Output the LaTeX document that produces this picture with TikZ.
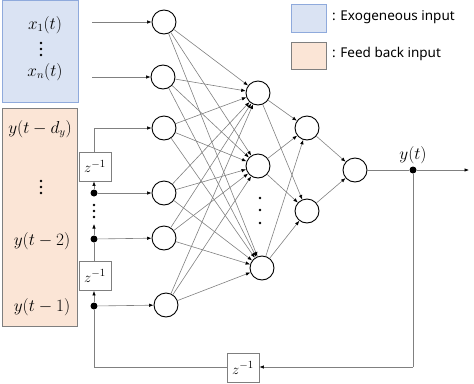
\documentclass[tikz,border=0pt]{standalone}
\usepackage{fontspec}
\newfontfamily\legfont{Noto Sans}
\usetikzlibrary{arrows.meta}
\definecolor{exofill}{HTML}{DAE3F3}
\definecolor{exoline}{HTML}{8FAADC}
\definecolor{fbfill}{HTML}{FBE5D6}
\definecolor{fbline}{HTML}{7F7F7F}
\definecolor{wire}{HTML}{808080}
\begin{document}
\begin{tikzpicture}[x=1pt,y=-1pt,
  neuron/.style={circle,draw=black,line width=0.9pt,minimum size=24pt,inner sep=0pt},
  conn/.style={draw=wire,line width=0.6pt,-{Latex[length=4.5pt,width=3.5pt,color=black]}},
  wireline/.style={draw=wire,line width=0.75pt},
  delaybox/.style={draw=fbline,fill=white,line width=0.9pt,minimum width=32pt,minimum height=29pt,inner sep=0pt,font=\fontsize{15}{17}\selectfont},
  jdot/.style={circle,fill=black,minimum size=7pt,inner sep=0pt},
  mtext/.style={font=\fontsize{16}{18}\selectfont,inner sep=0pt},
  legtext/.style={font=\legfont\fontsize{13.5}{15}\selectfont,anchor=west,inner sep=0pt}]
\useasboundingbox (0,0) rectangle (474,383);
% input boxes
\node[draw=exoline,fill=exofill,line width=0.9pt,minimum width=76pt,minimum height=102pt,inner sep=0pt] (exobox) at (40,51) {};
\node[draw=fbline,fill=fbfill,line width=0.9pt,minimum width=75pt,minimum height=218pt,inner sep=0pt] (fbbox) at (40,217) {};
\node[mtext] (x1) at (45,25) {$x_1(t)$};
\node[mtext] (xn) at (45,72) {$x_n(t)$};
\foreach \yy in {43,49,55} \fill (41,\yy) circle (1.4pt);
\node[mtext] (yd) at (40,129) {$y(t-d_y)$};
\foreach \yy in {181,187,193} \fill (41,\yy) circle (1.4pt);
\node[mtext] (y2) at (42,241) {$y(t-2)$};
\node[mtext] (y1) at (42,307) {$y(t-1)$};
% legend
\node[draw=exoline,fill=exofill,line width=0.9pt,minimum width=35pt,minimum height=28pt,inner sep=0pt] (legexo) at (308.5,18) {};
\node[draw=fbline,fill=fbfill,line width=0.9pt,minimum width=35pt,minimum height=27pt,inner sep=0pt] (legfb) at (308.5,55.5) {};
\node[legtext] (legexot) at (332,17) {: Exogeneous input};
\node[legtext] (legfbt) at (332,54) {: Feed back input};
% neurons
\node[neuron] (i1) at (164,22) {};
\node[neuron] (i2) at (163,77) {};
\node[neuron] (i3) at (164,128) {};
\node[neuron] (i4) at (164,193) {};
\node[neuron] (i5) at (164,238) {};
\node[neuron] (i6) at (166,305) {};
\node[neuron] (h1) at (258,93) {};
\node[neuron] (h2) at (258,166) {};
\node[neuron] (h3) at (262,268) {};
\node[neuron] (g1) at (307,128) {};
\node[neuron] (g2) at (307,211) {};
\node[neuron] (o) at (355,170) {};
\foreach \yy in {198,210,223} \fill (260,\yy) circle (1.4pt);
% connections
\foreach \a in {i1,i2,i3,i4,i5,i6}
  \foreach \b in {h1,h2,h3}
    \draw[conn] (\a) -- (\b);
\foreach \a in {h1,h2,h3}
  \foreach \b in {g1,g2}
    \draw[conn] (\a) -- (\b);
\draw[conn] (g1) -- (o);
\draw[conn] (g2) -- (o);
% exogeneous inputs
\coordinate (x1s) at (92,22);
\coordinate (xns) at (92,77);
\draw[conn] (x1s) -- (i1);
\draw[conn] (xns) -- (i2);
% feedback delay line
\node[delaybox] (z1) at (95,166.5) {$z^{-1}$};
\node[delaybox] (z2) at (95,276) {$z^{-1}$};
\node[jdot] (d4) at (94,193) {};
\node[jdot] (d5) at (94,239) {};
\node[jdot] (d6) at (94,306) {};
\coordinate (f3) at (94,128);
\coordinate (d5up) at (94,224);
\draw[wireline] (z1.north -| f3) -- (f3);
\draw[conn] (f3) -- (i3);
\draw[conn] (d4) -- (i4);
\draw[conn] (d5) -- (i5);
\draw[conn] (d6) -- (i6);
\draw[conn] (d4) -- (z1.south -| d4);
\draw[conn] (d5) -- (d5up);
\foreach \yy in {205,211,217} \fill (94,\yy) circle (1.3pt);
\draw[wireline] (z2.north -| d5) -- (d5);
\draw[conn] (d6) -- (z2.south -| d6);
% output
\node[jdot] (yo) at (413,170) {};
\node[mtext] (ylab) at (413,155) {$y(t)$};
\coordinate (yend) at (469,170);
\draw[wireline] (o) -- (yo);
\draw[conn] (yo) -- (yend);
% feedback loop
\node[delaybox,minimum height=29pt] (zf) at (243,368) {$z^{-1}$};
\coordinate (c1) at (413,367);
\coordinate (c2) at (94,367);
\draw[wireline] (yo) -- (c1);
\draw[conn] (c1) -- (zf.east |- c1);
\draw[wireline] (zf.west |- c2) -- (c2) -- (d6);
\end{tikzpicture}
\end{document}
